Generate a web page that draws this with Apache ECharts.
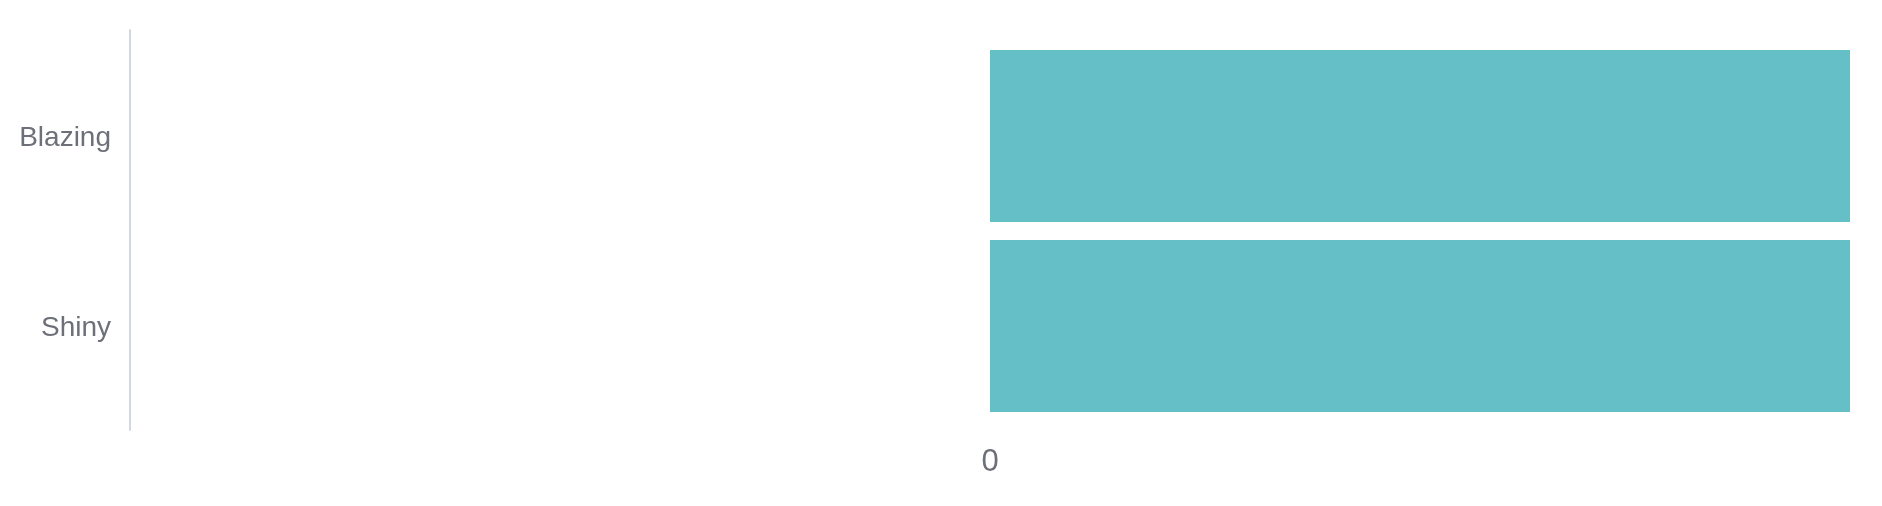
<!DOCTYPE html>
<html>
<head>
<meta charset="utf-8">
<style>
  html, body { margin: 0; padding: 0; background: #ffffff; }
  #chart { width: 1882px; height: 506px; }
</style>
<script src="https://cdn.jsdelivr.net/npm/echarts@6/dist/echarts.min.js"></script>
</head>
<body>
<div id="chart"></div>
<script>
// Categories (bottom to top, as ECharts draws a y category axis)
const categories = ['Shiny', 'Blazing'];
// Series values
const values = [100, 100];
// Value axis range and tick labels
const axisMin = -100;
const axisMax = 100;
const axisInterval = 100;
const tickLabels = ['0'];

const chart = echarts.init(document.getElementById('chart'), null, { renderer: 'canvas' });

const labelColor = '#6E7079';
const fontFamily = '"Liberation Sans", Arial, Helvetica, sans-serif';

chart.setOption({
  animation: false,
  backgroundColor: '#ffffff',
  grid: [
    { left: 130, right: 32, top: 41, bottom: 85 },
    { left: 130, right: 32, top: 30, bottom: 76 }
  ],
  xAxis: [
    {
      gridIndex: 0, type: 'value', min: axisMin, max: axisMax, interval: axisInterval,
      show: false
    },
    {
      gridIndex: 1, type: 'value', min: axisMin, max: axisMax, interval: axisInterval,
      axisLine: { show: false }, axisTick: { show: false }, splitLine: { show: false },
      axisLabel: {
        color: labelColor, fontSize: 31, fontFamily: fontFamily, margin: 17,
        formatter: function (v) { const s = String(v); return tickLabels.indexOf(s) >= 0 ? s : ''; }
      }
    }
  ],
  yAxis: [
    {
      gridIndex: 0, type: 'category', data: categories,
      axisLine: { show: false, onZero: false }, axisTick: { show: false }, splitLine: { show: false },
      axisLabel: {
        color: labelColor, fontSize: 28, fontFamily: fontFamily, margin: 19,
        formatter: '{a|{value}}',
        rich: { a: { color: labelColor, fontSize: 28, fontFamily: fontFamily, padding: [5, 0, 0, 0] } }
      }
    },
    {
      gridIndex: 1, type: 'category', data: categories,
      axisLine: { show: true, onZero: false, lineStyle: { color: '#D3D7E2', width: 2 } },
      axisTick: { show: false }, axisLabel: { show: false }, splitLine: { show: false }
    }
  ],
  series: [
    {
      type: 'bar',
      xAxisIndex: 0, yAxisIndex: 0,
      data: values,
      barWidth: 172,
      itemStyle: { color: '#64BFC7' }
    }
  ]
});
</script>
</body>
</html>
